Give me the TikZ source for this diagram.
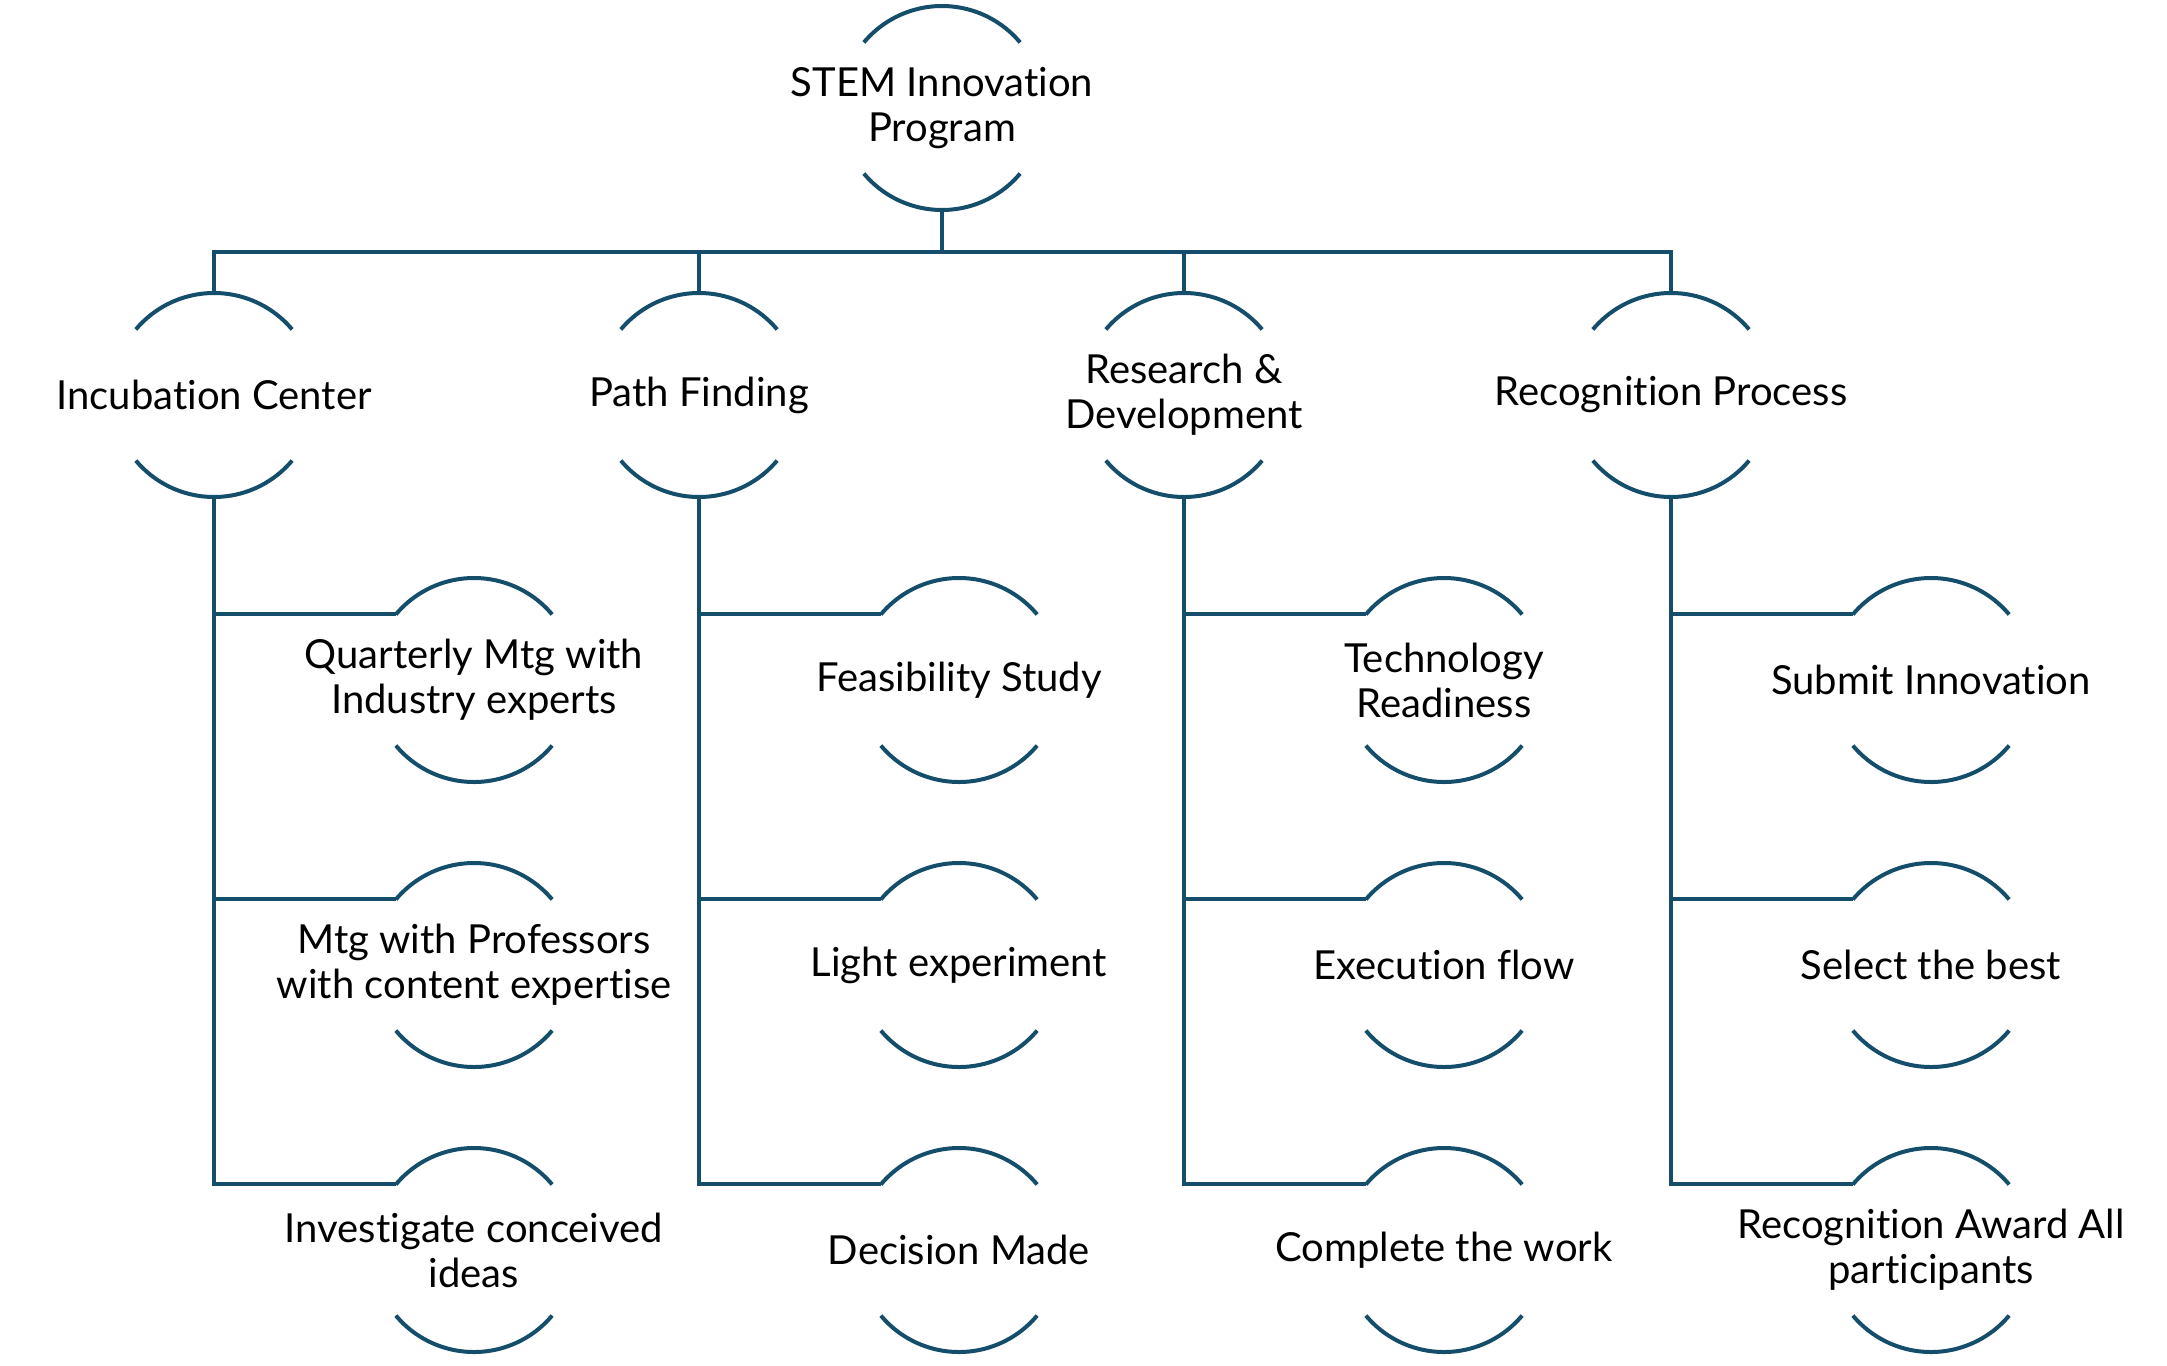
\documentclass[tikz,border=0pt]{standalone}
\usepackage{fontspec}
\setmainfont{Lato}[Ligatures={NoCommon,NoRare}]
\usepackage{tikz}
\definecolor{ringblue}{HTML}{144E6B}
\tikzstyle{ring} = [circle, minimum size=204pt, inner sep=0pt, outer sep=0pt]
\tikzstyle{caption} = [align=center, text=black, font=\fontsize{40}{45}\selectfont]
\tikzstyle{arcline} = [line width=4pt, draw=ringblue]
\tikzstyle{link} = [line width=4pt, draw=ringblue]

\begin{document}
\begin{tikzpicture}[node distance=285pt]
        \useasboundingbox (-942pt,108pt) rectangle (1225pt,-1257pt);
        \node (stem) [ring, label={[caption]center:STEM Innovation\\Program}] at (0,0) {};
        \node (ic) [ring, label={[caption]center:Incubation Center}] at (-728pt,-287pt) {};
        \node (pf) [ring, node distance=485pt, right of=ic, label={[caption]center:Path Finding}] {};
        \node (rd) [ring, node distance=485pt, right of=pf, label={[caption]center:Research \&\\Development}] {};
        \node (rp) [ring, node distance=487pt, right of=rd, label={[caption]center:Recognition Process}] {};
        \node (ic1) [ring, below of=ic, xshift=260pt, label={[caption]center:Quarterly Mtg with\\Industry experts}] {};
        \node (ic2) [ring, below of=ic1, label={[caption]center:Mtg with Professors\\with content expertise}] {};
        \node (ic3) [ring, below of=ic2, label={[caption]center:Investigate conceived\\ideas}] {};
        \node (pf1) [ring, below of=pf, xshift=260pt, label={[caption]center:Feasibility Study}] {};
        \node (pf2) [ring, below of=pf1, label={[caption]center:Light experiment}] {};
        \node (pf3) [ring, below of=pf2, label={[caption]center:Decision Made}] {};
        \node (rd1) [ring, below of=rd, xshift=260pt, label={[caption]center:Technology\\Readiness}] {};
        \node (rd2) [ring, below of=rd1, label={[caption]center:Execution flow}] {};
        \node (rd3) [ring, below of=rd2, label={[caption]center:Complete the work}] {};
        \node (rp1) [ring, below of=rp, xshift=260pt, label={[caption]center:Submit Innovation}] {};
        \node (rp2) [ring, below of=rp1, label={[caption]center:Select the best}] {};
        \node (rp3) [ring, below of=rp2, label={[caption]center:Recognition Award All\\participants}] {};
        % open rings: top and bottom arcs only
        \foreach \n in {stem,ic,pf,rd,rp,ic1,ic2,ic3,pf1,pf2,pf3,rd1,rd2,rd3,rp1,rp2,rp3}
          \draw [arcline] (\n.40) arc (40:140:102pt) (\n.220) arc (220:320:102pt);
        \foreach \n in {ic,pf,rd,rp}
          \draw [link] (stem.south) -- ++(0,-41.5pt) -| (\n.north);
        \foreach \n in {ic,pf,rd,rp}
          \draw [link] (\n.south) |- (\n1.140) (\n.south) |- (\n2.140) (\n.south) |- (\n3.140);
    \end{tikzpicture}
\end{document}
